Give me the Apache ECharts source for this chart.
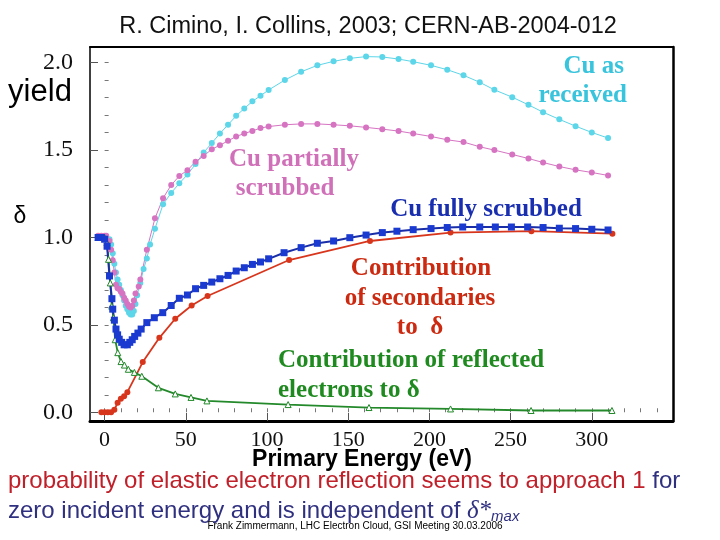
<!DOCTYPE html>
<html><head><meta charset="utf-8">
<script src="https://cdn.jsdelivr.net/npm/echarts@6/dist/echarts.min.js"></script>
<style>html,body{margin:0;padding:0;background:#fff}#c{width:720px;height:540px}</style>
</head><body><div id="c"></div>
<script>
// ---- data (energy eV, yield) ----
const cuReceived = [[-4,1.0],[-1,1.0],[1,1.0],[3,0.99],[4,0.96],[5,0.91],[6,0.85],[7,0.80],[8,0.76],[9,0.73],[10,0.70],[11,0.67],[12,0.64],[13,0.61],[14,0.59],[15,0.57],[16,0.56],[17,0.56],[18,0.58],[19,0.62],[20,0.67],[22,0.74],[24,0.82],[26,0.88],[28,0.96],[31,1.05],[36,1.19],[41,1.255],[46,1.31],[51,1.36],[56,1.42],[61,1.486],[66,1.54],[71,1.595],[76,1.645],[81,1.696],[86,1.738],[91,1.779],[96,1.811],[101,1.844],[111,1.901],[121,1.948],[131,1.985],[141,2.008],[151,2.025],[161,2.035],[171,2.033],[181,2.021],[190,2.006],[201,1.985],[211,1.96],[221,1.928],[231,1.888],[240,1.845],[251,1.803],[261,1.759],[270,1.717],[280,1.676],[290,1.637],[300,1.601],[310,1.569]];
const cuPartial = [[-4,1.01],[-2,1.01],[0,1.01],[1,1.01],[3,0.98],[4,0.93],[5,0.87],[6,0.80],[7,0.73],[8,0.71],[9,0.705],[10,0.69],[11,0.68],[12,0.655],[13,0.64],[14,0.62],[15,0.605],[16,0.60],[17,0.61],[18,0.64],[19,0.68],[21,0.72],[22,0.76],[26,0.93],[31,1.11],[36,1.225],[41,1.30],[46,1.352],[51,1.385],[56,1.433],[61,1.467],[66,1.505],[71,1.528],[76,1.553],[81,1.578],[86,1.595],[91,1.61],[96,1.626],[101,1.635],[111,1.645],[121,1.65],[131,1.65],[141,1.645],[151,1.639],[161,1.63],[171,1.62],[181,1.609],[190,1.595],[201,1.578],[211,1.559],[221,1.546],[231,1.519],[240,1.50],[251,1.475],[261,1.452],[270,1.429],[280,1.406],[290,1.387],[300,1.372],[310,1.355]];
const cuFully = [[-4,1.0],[-2,1.0],[0,0.99],[1.5,0.95],[3,0.78],[4.5,0.65],[5,0.59],[6,0.527],[7,0.476],[8,0.443],[9,0.418],[10.5,0.40],[12,0.386],[14,0.386],[15.5,0.40],[17,0.415],[18.5,0.434],[20.5,0.453],[22.5,0.476],[26,0.513],[30.6,0.541],[35.8,0.57],[41,0.611],[46,0.652],[51,0.671],[56,0.707],[61,0.726],[66,0.745],[71,0.764],[76,0.783],[81,0.808],[86,0.827],[91,0.846],[96,0.86],[101,0.878],[110.5,0.913],[121,0.942],[131,0.967],[141,0.98],[151,0.999],[161,1.014],[171,1.028],[180,1.036],[190,1.045],[201,1.051],[211,1.057],[220.5,1.06],[231,1.06],[240.6,1.06],[250.5,1.06],[260.5,1.06],[270,1.057],[280,1.053],[290,1.051],[300,1.047],[310,1.043]];
const secondaries = [[-2,0],[0,0],[2,0],[4,0],[6,0.015],[8,0.054],[10,0.077],[12,0.092],[14,0.115],[23.5,0.287],[33.7,0.426],[43.5,0.535],[53.6,0.611],[63.4,0.665],[113.6,0.871],[163.4,0.98],[213,1.028],[262.8,1.036],[312.7,1.022]];
const reflected = [[-4,1.0],[0,1.0],[1.5,0.97],[2.4,0.875],[3.5,0.74],[4.4,0.607],[5.4,0.541],[6.5,0.415],[8.1,0.341],[10.1,0.29],[12.2,0.27],[14.6,0.246],[18.3,0.228],[22.9,0.206],[33.1,0.14],[43.5,0.105],[53.2,0.085],[63,0.065],[113,0.044],[162.8,0.027],[213,0.019],[262.6,0.01],[312.4,0.01]];
const xMajor = [0,50,100,150,200,250,300];
const xMinor = [0,10,20,30,40,50,60,70,80,90,100,110,120,130,140,150,160,170,180,190,200,210,220,230,240,250,260,270,280,290,300,310,320,330,340];
const yMajor = [0,0.5,1,1.5,2];
const yMinor = [0,0.1,0.2,0.3,0.4,0.5,0.6,0.7,0.8,0.9,1,1.1,1.2,1.3,1.4,1.5,1.6,1.7,1.8,1.9,2];

const SERIF = '"Liberation Serif", "DejaVu Serif", serif';
const SANS = '"Liberation Sans", Arial, sans-serif';
const X_MIN = -9, X_MAX = 350, Y_MIN = -0.05, Y_MAX = 2.09;

const chart = echarts.init(document.getElementById('c'));
function lbl(text, x, y, color, size, align, font, weight) {
  return {type:'text', x:x, y:y, style:{text:text, fill:color, font:(weight||'bold')+' '+size+'px '+(font||SERIF), textAlign:align||'center', textVerticalAlign:'middle'}};
}
chart.setOption({
  animation:false,
  backgroundColor:'#fff',
  grid:{left:90, top:47, right:47, bottom:119, show:false},
  xAxis:[
    {type:'value', min:X_MIN, max:X_MAX, position:'bottom',
     axisLine:{show:true, onZero:false, lineStyle:{color:'#000', width:3}},
     axisTick:{show:true, inside:true, length:8, customValues:xMajor, lineStyle:{color:'#555'}},
     axisLabel:{customValues:xMajor, margin:8, fontFamily:SERIF, fontSize:22, color:'#111'},
     splitLine:{show:false}},
    {type:'value', min:X_MIN, max:X_MAX, position:'top',
     axisLine:{show:true, onZero:false, lineStyle:{color:'#000', width:2}},
     axisTick:{show:false}, axisLabel:{show:false}, splitLine:{show:false}},
    {type:'value', min:X_MIN, max:X_MAX, position:'bottom',
     axisLine:{show:false},
     axisTick:{show:true, inside:true, length:4, customValues:xMinor, lineStyle:{color:'#777'}},
     axisLabel:{show:false}, splitLine:{show:false}}
  ],
  yAxis:[
    {type:'value', min:Y_MIN, max:Y_MAX, position:'left',
     axisLine:{show:true, onZero:false, lineStyle:{color:'#000', width:1.5}},
     axisTick:{show:true, inside:true, length:8, customValues:yMajor, lineStyle:{color:'#555'}},
     axisLabel:{customValues:yMajor, margin:17, fontFamily:SERIF, fontSize:24, color:'#111',
       formatter:v=>v.toFixed(1)},
     splitLine:{show:false}},
    {type:'value', min:Y_MIN, max:Y_MAX, position:'right',
     axisLine:{show:true, onZero:false, lineStyle:{color:'#000', width:2.5}},
     axisTick:{show:false}, axisLabel:{show:false}, splitLine:{show:false}},
    {type:'value', min:Y_MIN, max:Y_MAX, position:'left',
     axisLine:{show:false},
     axisTick:{show:true, inside:true, length:4, customValues:yMinor, lineStyle:{color:'#777'}},
     axisLabel:{show:false}, splitLine:{show:false}}
  ],
  series:[
    {type:'line', data:cuReceived, symbol:'circle', symbolSize:6, itemStyle:{color:'#5cd6e8'}, lineStyle:{color:'#5cd6e8', width:1}},
    {type:'line', data:cuPartial, symbol:'circle', symbolSize:6, itemStyle:{color:'#d674c2'}, lineStyle:{color:'#d674c2', width:1}},
    {type:'line', data:secondaries, symbol:'circle', symbolSize:6, itemStyle:{color:'#d8361c'}, lineStyle:{color:'#d8361c', width:1.8}},
    {type:'line', data:reflected, symbol:'triangle', symbolSize:6, itemStyle:{color:'#fff', borderColor:'#23892a', borderWidth:1}, lineStyle:{color:'#23892a', width:1.8}},
    {type:'line', data:cuFully, symbol:'rect', symbolSize:7, itemStyle:{color:'#1a3ad0'}, lineStyle:{color:'#1a2ea8', width:2}}
  ],
  graphic:[
    lbl('R. Cimino, I. Collins, 2003; CERN-AB-2004-012', 368, 27, '#111', 23.5, 'center', SANS, 'normal'),
    lbl('yield', 40, 92, '#000', 31, 'center', SANS, 'normal'),
    lbl('δ', 20, 217, '#000', 23, 'center', SANS, 'normal'),
    lbl('Cu as', 624, 67, '#38c4dc', 25, 'right'),
    lbl('received', 627, 96, '#38c4dc', 25, 'right'),
    lbl('Cu partially', 294, 160, '#d070b8', 25),
    lbl('scrubbed', 285, 189, '#d070b8', 25),
    lbl('Cu fully scrubbed', 486, 210, '#1a2fb0', 25),
    lbl('Contribution', 421, 269, '#cc2a10', 25),
    lbl('of secondaries', 420, 299, '#cc2a10', 25),
    lbl('to  δ', 420, 328, '#cc2a10', 25),
    lbl('Contribution of reflected', 278, 361, '#1f8a1f', 25, 'left'),
    lbl('electrons to δ', 278, 391, '#1f8a1f', 25, 'left'),
    lbl('Primary Energy (eV)', 362, 460, '#000', 23, 'center', SANS, 'bold'),
    {type:'text', x:8, y:481, style:{text:'{r|probability of elastic electron reflection seems to approach 1}{b| for}', textVerticalAlign:'middle',
      rich:{r:{fill:'#c0202a', font:'24px '+SANS}, b:{fill:'#303080', font:'24px '+SANS}}}},
    {type:'text', x:8, y:511, style:{text:'{b|zero incident energy and is independent of }{d|δ*}{s|max}', textVerticalAlign:'middle',
      rich:{b:{fill:'#303080', font:'24px '+SANS}, d:{fill:'#303080', font:'italic 25px '+SERIF}, s:{fill:'#303080', font:'italic 15px '+SANS, verticalAlign:'bottom', padding:[12,0,0,0]}}}},
    lbl('Frank Zimmermann, LHC Electron Cloud, GSI Meeting 30.03.2006', 355, 526, '#000', 10, 'center', SANS, 'normal')
  ]
});
</script></body></html>
